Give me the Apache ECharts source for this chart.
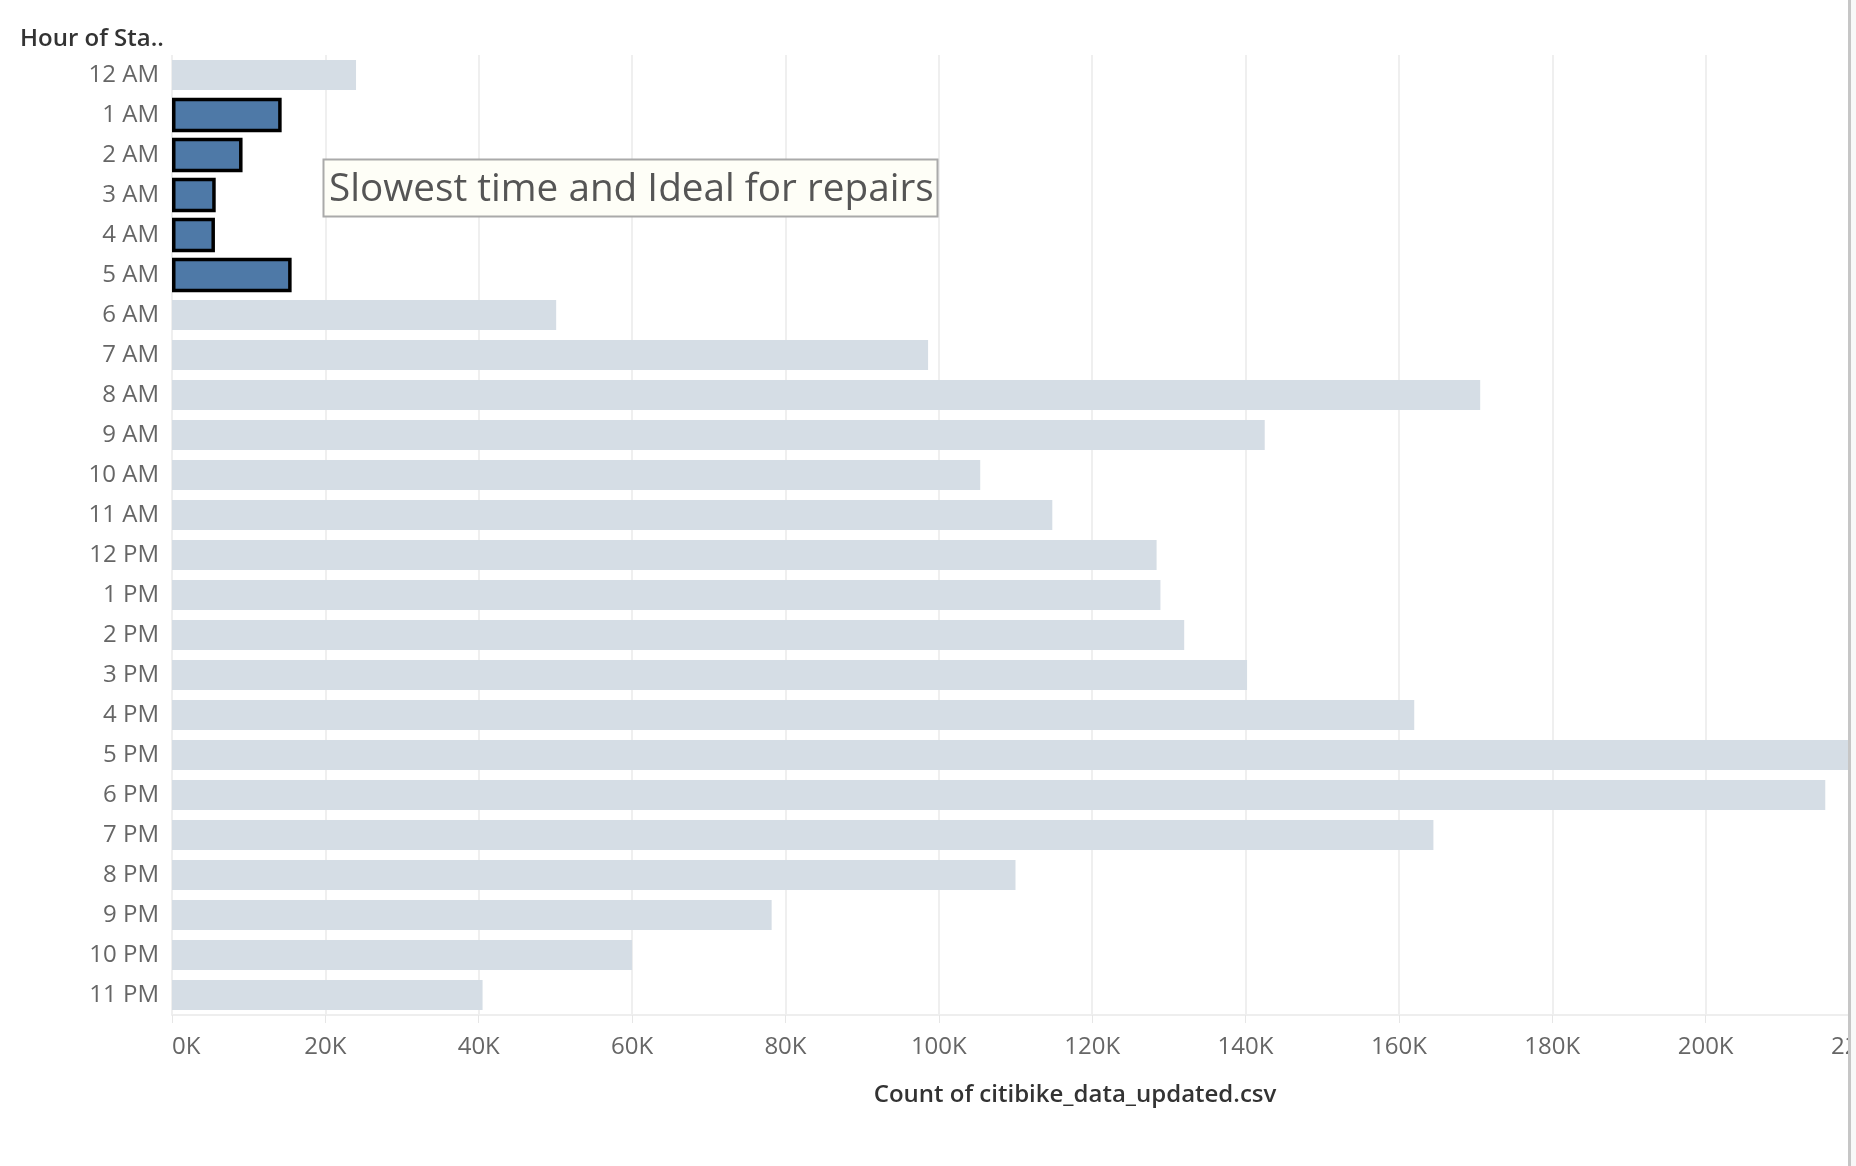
<!DOCTYPE html>
<html>
<head>
<meta charset="utf-8">
<script src="https://cdn.jsdelivr.net/npm/echarts@6/dist/echarts.min.js"></script>
<style>
  html, body { margin: 0; padding: 0; background: #fff; }
  #chart { width: 1856px; height: 1166px; }
</style>
</head>
<body>
<div id="chart"></div>
<script>
// ---- data ----
const hours = ['12 AM', '1 AM', '2 AM', '3 AM', '4 AM', '5 AM', '6 AM', '7 AM', '8 AM', '9 AM', '10 AM', '11 AM',
               '12 PM', '1 PM', '2 PM', '3 PM', '4 PM', '5 PM', '6 PM', '7 PM', '8 PM', '9 PM', '10 PM', '11 PM'];
const counts = [24000, 14300, 9200, 5700, 5600, 15600, 50100, 98600, 170600, 142500, 105400, 114800,
                128400, 128900, 132000, 140200, 162000, 224000, 215600, 164500, 110000, 78200, 60000, 40500];
const highlighted = ['1 AM', '2 AM', '3 AM', '4 AM', '5 AM'];
const xTicks = [0, 20000, 40000, 60000, 80000, 100000, 120000, 140000, 160000, 180000, 200000, 220000];
const yAxisTitle = 'Hour of Sta..';
const xAxisTitle = 'Count of citibike_data_updated.csv';
const annotationText = 'Slowest time and Ideal for repairs';

const grayData = counts.map((v, i) => highlighted.includes(hours[i]) ? null : v);
const blueData = counts.map((v, i) => highlighted.includes(hours[i]) ? v : null);

const FONT = "'Open Sans', 'DejaVu Sans', sans-serif";
const chart = echarts.init(document.getElementById('chart'), null, { renderer: 'canvas' });

const option = {
  backgroundColor: '#ffffff',
  animation: false,
  grid: { left: 172, top: 55, width: 1687, height: 960, containLabel: false, outerBoundsMode: 'none' },
  xAxis: {
    type: 'value',
    min: xTicks[0],
    max: xTicks[xTicks.length - 1],
    interval: xTicks[1] - xTicks[0],
    axisLine: { show: true, lineStyle: { color: '#eeeeee', width: 2 } },
    axisTick: { show: true, length: 8, lineStyle: { color: '#e6e6e6', width: 1 } },
    splitLine: { show: true, lineStyle: { color: '#efefef', width: 2 } },
    axisLabel: {
      color: '#666666', fontFamily: FONT, fontSize: 24, margin: 20,
      alignMinLabel: 'left', showMaxLabel: true, hideOverlap: false,
      formatter: v => (v / 1000) + 'K'
    }
  },
  yAxis: [
    {
      type: 'category', data: hours, inverse: true,
      axisLine: { show: false }, axisTick: { show: false },
      axisLabel: { color: '#666666', fontFamily: FONT, fontSize: 24, margin: 13, padding: [5, 0, 0, 0] }
    },
    {
      type: 'category', data: hours, inverse: true, show: false
    }
  ],
  series: [
    {
      type: 'bar', yAxisIndex: 0, data: grayData, barWidth: 30,
      itemStyle: { color: '#d5dde5' }, silent: true
    },
    {
      type: 'bar', yAxisIndex: 1, data: blueData, barWidth: 34.5,
      itemStyle: { color: '#4e79a7', borderColor: '#000000', borderWidth: 3.5 }, silent: true
    }
  ],
  graphic: [
    {
      type: 'text', x: 20, y: 39,
      style: { text: yAxisTitle, fontFamily: FONT, fontSize: 24, fontWeight: 600, fill: '#333333',
               textVerticalAlign: 'middle' }
    },
    {
      type: 'text', x: 1075, y: 1095,
      style: { text: xAxisTitle, fontFamily: FONT, fontSize: 24, fontWeight: 600, fill: '#333333',
               textAlign: 'center', textVerticalAlign: 'middle' }
    },
    {
      type: 'rect', z: 100, shape: { x: 323.5, y: 159.5, width: 614, height: 57 },
      style: { fill: '#fefef7', stroke: '#aaaaaa', lineWidth: 2 }
    },
    {
      type: 'text', z: 101, x: 329, y: 190,
      style: { text: annotationText, fontFamily: FONT, fontSize: 38.7, fill: '#555555',
               textVerticalAlign: 'middle' }
    },
    {
      type: 'rect', z: 200, shape: { x: 1848, y: 0, width: 3, height: 1166 },
      style: { fill: '#c6c6c6' }
    },
    {
      type: 'rect', z: 200, shape: { x: 1851, y: 0, width: 5, height: 1166 },
      style: { fill: '#f8f8f8' }
    }
  ]
};
chart.setOption(option);
</script>
</body>
</html>
